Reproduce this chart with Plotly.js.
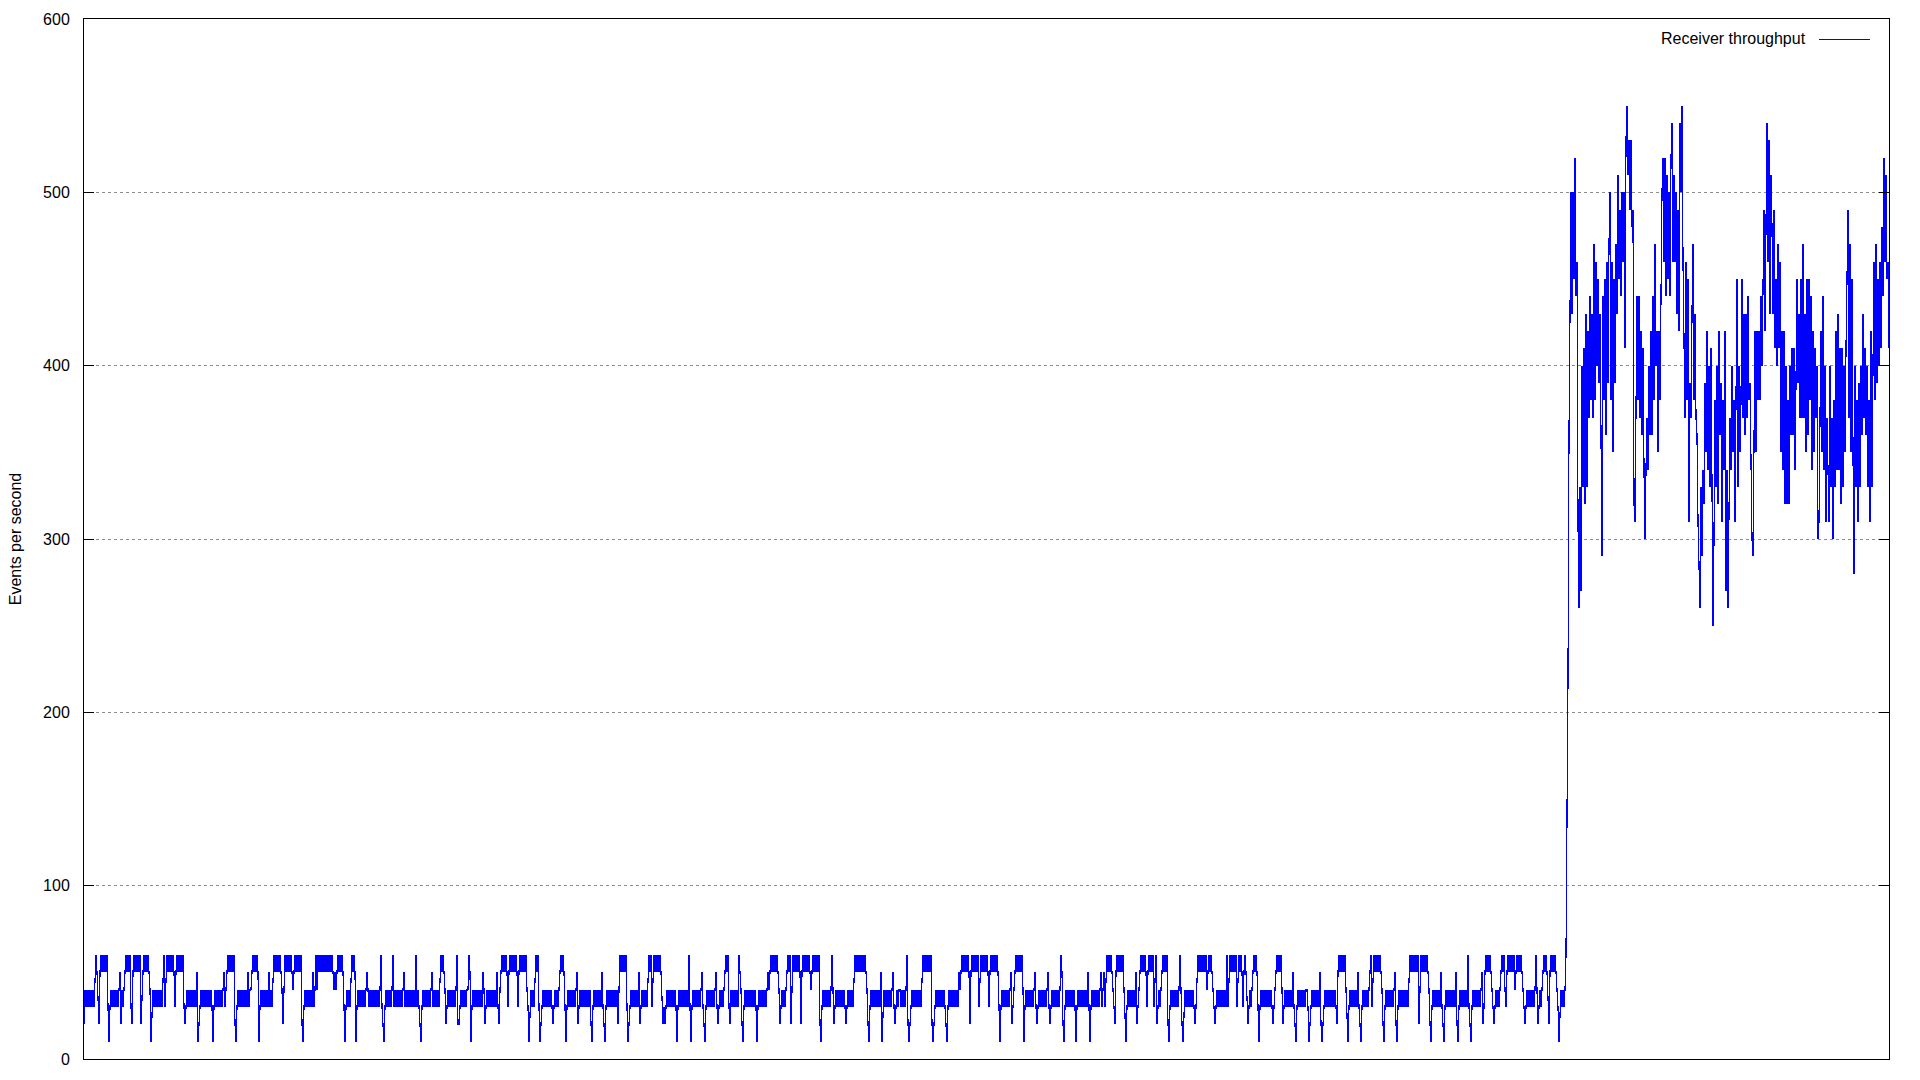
<!DOCTYPE html>
<html>
<head>
<meta charset="utf-8">
<script src="https://cdn.plot.ly/plotly-3.0.1.min.js"></script>
<style>
html,body{margin:0;padding:0;background:#fff;}
#chart{width:1920px;height:1080px;}
#chart .scatterlayer .js-line{shape-rendering:crispEdges;}
</style>
</head>
<body>
<div id="chart"></div>
<script>
// Receiver throughput samples, one per time step.
// Low phase: each digit is one sample, in units of 10 events/s (e.g. "3" = 30).
const lowPhase1 = ["243","43434343","565","32","56565656","31","3434343434","52","434","565656","32","56565656","24","565656","5413","4343434343","56","35","656","56565","3","56565656"];
const lowPhase2 = ["323","4343434343","5","12","3434343434343","1","3434343434","5","34","56565656","21","3","4343434343534","4","5656565","1","3434343435343","565656565","42","565656565456565656"];
const lowPhase3 = ["21","343434343","5","34","646565656565656565","454","5656565","21","34343","56565","1","3434343434543","434343434346","321","34343434","6","34343434345","34","3434343436","343","21","34343434345","3434343","56565","42","3434343434"];
const lowPhase4 = ["6","22","34343434","465","13","4343434343","54","23","4343434343","5","32","45","656565","35","65656565","35","6565656","431","34343","5656","31","23","4343434343","23","43434","56565","21","34343434345","23","4343434343","421","3434343435","321","3434"];
const lowPhase5 = ["34343434","2","56565656","312","3434343435","23","434343","5656","35","65656565","32323","4343434343","1","34343434343","6","3","1","3434343434","5","32","1","3434343434","5","32","343434","5656","32","43434343","654","21","343434343434","31","343434343","45","456","5656565","42","343434","5656","2","565656565","2","565656565","4","56565656","21","3434343434","6","32","34343434343","2","3434343","565","6565656565","421","343434343435","1","34343434345","32","3434"];
const lowPhase6 = ["4343434","6","21","23","4343434343","5","656565656","21","23","4343434343","21","3","4343434343","545","65656565","2","56565656","3","565656565","3","565656565","21","34343434345","23","45","6565656","41","34343434345","32","34343434345","32","3434343434","65","21","34343434343","1","343434343435","31","343434343453"];
const lowPhase7 = ["45","3","5656565","4325","6565656","421","343434343","52","345","656565","3","565656","3","56","23","4345","65656","21","3434343434","6","321","34343434343","23","5656565656","4","56565","432","34343434343","6","3","56565656","3","56565","3","565","32","3434","56565","21","3434343434343","2","34","565656","42","343434343","5","321","3434343434","431"];
const lowPhase8 = ["23","43434343","5","212","3434343434343","2","56565656","421","343434343","5","321","34343434","56","3","565656565","421","3434343434","5","21","34343434343","5","656565656","2","565656565","421","343434343","5","321","343434343435","21","343434343","6","321","3434343434","5","23","5656565","432","343434","5656","43","56565656"];
const lowPhase9 = ["4","5656565","432","3434343434","6","42","34345","6565","32","5656565","431","343434","6"];
// Ramp-up samples (events/s)
const riseValues = [130, 220];
// High phase samples (events/s)
const highPhase = [
360,470,500,430,500,450,520,440,460,310,
260,330,270,400,330,410,320,430,330,420,
370,440,380,430,370,470,380,460,400,450,
390,430,350,290,440,380,450,360,460,390,
470,500,380,460,350,450,390,470,430,510,
450,490,440,500,460,500,410,530,550,510,
530,490,530,480,490,320,310,390,440,380,
440,370,420,360,410,340,300,340,370,340,
400,360,420,360,440,380,470,400,420,350,
420,380,460,500,520,460,520,440,510,450,
500,440,520,540,460,510,460,500,430,490,
420,540,500,550,460,400,370,460,380,450,
310,390,370,430,470,380,430,370,360,310,
270,260,330,290,340,320,390,350,420,340,
400,330,410,340,250,300,380,330,400,320,
420,360,390,310,380,340,420,270,340,260,
310,370,340,400,350,380,310,390,450,330,
400,350,380,450,370,430,360,430,370,440,
380,390,330,300,290,350,420,350,420,380,
420,380,440,400,460,490,420,510,540,460,
530,430,510,480,430,490,410,450,400,470,
410,460,350,420,340,420,320,400,320,380,
320,400,360,410,360,410,340,390,450,390,
430,370,450,370,470,370,430,350,450,360,
450,380,440,340,420,350,410,370,400,300,
310,370,420,350,440,340,400,310,370,340,
310,400,330,370,300,380,330,420,340,430,
340,410,320,410,330,400,350,410,450,490,
370,470,350,450,350,280,400,330,380,310,
390,330,400,360,430,370,410,360,400,330,
380,310,420,330,400,460,380,470,390,450,
400,460,410,480,440,520,460,510,450,460,410
];
const yTicks = [0,100,200,300,400,500,600];
const seriesName = "Receiver throughput";
const yTitle = "Events per second";

const lowPieces = [].concat(lowPhase1, lowPhase2, lowPhase3, lowPhase4, lowPhase5, lowPhase6, lowPhase7, lowPhase8, lowPhase9);
const lowValues = lowPieces.join("").split("").map(d => Number(d) * 10);
const yVals = lowValues.concat(riseValues, highPhase);
const xVals = yVals.map((_, i) => i);

const font = {family: "'Liberation Sans', Arial, Helvetica, sans-serif", size: 16, color: "#000"};

const trace = {
  x: xVals, y: yVals, type: "scatter", mode: "lines",
  name: seriesName,
  line: {color: "#0000ff", width: 1.2},
  showlegend: false,
  hoverinfo: "skip"
};

const plotLeft = 84, plotRight = 1889, plotTop = 19, plotBottom = 1059;
const pw = plotRight - plotLeft, ph = plotBottom - plotTop;

const layout = {
  width: 1920, height: 1080,
  margin: {l: plotLeft, r: 1920 - plotRight, t: plotTop, b: 1080 - plotBottom, pad: 0},
  paper_bgcolor: "#fff", plot_bgcolor: "#fff",
  font: font,
  showlegend: false,
  xaxis: {
    range: [0, xVals.length - 1],
    showticklabels: false, ticks: "", showgrid: false, zeroline: false,
    showline: true, mirror: true, linecolor: "#000", linewidth: 1,
    fixedrange: true
  },
  yaxis: {
    range: [0, 600], tickvals: yTicks, ticktext: yTicks.map(String),
    ticks: "inside", ticklen: 10, tickcolor: "#000", tickwidth: 1,
    showline: true, mirror: "ticks", linecolor: "#000", linewidth: 1,
    showgrid: true, gridcolor: "#8c8c8c", griddash: "dot", gridwidth: 1,
    zeroline: false,
    ticklabelstandoff: 10,
    tickfont: font,
    title: {text: yTitle, font: font, standoff: 17},
    fixedrange: true
  },
  annotations: [{
    text: seriesName, xref: "paper", yref: "paper",
    x: (1808 - plotLeft) / pw, y: 1 - (38 - plotTop) / ph,
    xanchor: "right", yanchor: "middle", showarrow: false,
    font: font
  }],
  shapes: [{
    type: "line", xref: "paper", yref: "paper",
    x0: (1819 - plotLeft) / pw, x1: (1870 - plotLeft) / pw,
    y0: 1 - (39.5 - plotTop) / ph, y1: 1 - (39.5 - plotTop) / ph,
    line: {color: "#0000ff", width: 1}
  }]
};

Plotly.newPlot("chart", [trace], layout, {staticPlot: true, displayModeBar: false});
</script>
</body>
</html>
